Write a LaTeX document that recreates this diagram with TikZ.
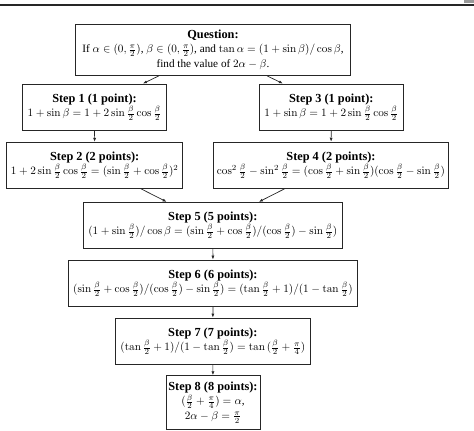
\RequirePackage{fix-cm}
\documentclass[tikz,border=0pt]{standalone}
\usepackage[no-math]{fontspec}
\setmainfont{Liberation Serif}
\usetikzlibrary{arrows.meta}
\newcommand{\steptitle}[1]{{\fontsize{12.3}{14}\selectfont\textbf{#1}}}
\begin{document}
\begin{tikzpicture}[x=1pt,y=-1pt,
  box/.style={draw=black!85, line width=0.9pt, align=center, inner sep=0pt,
    font=\fontsize{11.2}{14.5}\selectfont, text=black},
  conn/.style={draw=black!85, line width=0.7pt, -{Latex[length=4pt,width=3pt]}}]
\useasboundingbox (0,0) rectangle (474,431);
\draw[line width=1.6pt, black!85] (0,5) -- (474,5);
\fill[black!40] (464,0) rectangle (474,2.5);
\node[box, minimum width=275.4pt, minimum height=51.3pt] (q) at (213,49.7)
  {\steptitle{Question:}\\ If $\alpha\in(0,\frac{\pi}{2})$, $\beta\in(0,\frac{\pi}{2})$, and $\tan\alpha=(1+\sin\beta)/\cos\beta$,\\ find the value of $2\alpha-\beta$.};
\node[box, minimum width=144.4pt, minimum height=46pt] (s1) at (94.5,107)
  {\steptitle{Step 1 (1 point):}\\ $1+\sin\beta=1+2\sin\frac{\beta}{2}\cos\frac{\beta}{2}$};
\node[box, minimum width=144pt, minimum height=46pt] (s3) at (331.3,107)
  {\steptitle{Step 3 (1 point):}\\ $1+\sin\beta=1+2\sin\frac{\beta}{2}\cos\frac{\beta}{2}$};
\node[box, minimum width=176pt, minimum height=46pt] (s2) at (94.7,165.3)
  {\steptitle{Step 2 (2 points):}\\ $1+2\sin\frac{\beta}{2}\cos\frac{\beta}{2}=(\sin\frac{\beta}{2}+\cos\frac{\beta}{2})^2$};
\node[box, minimum width=235.4pt, minimum height=46pt] (s4) at (331,165.2)
  {\steptitle{Step 4 (2 points):}\\ $\cos^2\frac{\beta}{2}-\sin^2\frac{\beta}{2}=(\cos\frac{\beta}{2}+\sin\frac{\beta}{2})(\cos\frac{\beta}{2}-\sin\frac{\beta}{2})$};
\node[box, minimum width=259pt, minimum height=46pt] (s5) at (212.8,225.3)
  {\steptitle{Step 5 (5 points):}\\ $(1+\sin\frac{\beta}{2})/\cos\beta=(\sin\frac{\beta}{2}+\cos\frac{\beta}{2})/(\cos\frac{\beta}{2})-\sin\frac{\beta}{2})$};
\node[box, minimum width=289.4pt, minimum height=46.3pt] (s6) at (213,283.2)
  {\steptitle{Step 6 (6 points):}\\ $(\sin\frac{\beta}{2}+\cos\frac{\beta}{2})/(\cos\frac{\beta}{2})-\sin\frac{\beta}{2})=(\tan\frac{\beta}{2}+1)/(1-\tan\frac{\beta}{2})$};
\node[box, minimum width=194.3pt, minimum height=46.3pt] (s7) at (212.8,341.2)
  {\steptitle{Step 7 (7 points):}\\ $(\tan\frac{\beta}{2}+1)/(1-\tan\frac{\beta}{2})=\tan{(\frac{\beta}{2}+\frac{\pi}{4})}$};
\node[box, minimum width=94pt, minimum height=53.8pt] (s8) at (213,402.6)
  {\steptitle{Step 8 (8 points):}\\ $(\frac{\beta}{2}+\frac{\pi}{4})=\alpha$,\\ $2\alpha-\beta=\frac{\pi}{2}$};
\draw[conn] (q) -- (s1);
\draw[conn] (q) -- (s3);
\draw[conn] (s1) -- (s2);
\draw[conn] (s3) -- (s4);
\draw[conn] (s2) -- (s5);
\draw[conn] (s4) -- (s5);
\draw[conn] (s5) -- (s6);
\draw[conn] (s6) -- (s7);
\draw[conn] (s7) -- (s8);
\end{tikzpicture}
\end{document}
